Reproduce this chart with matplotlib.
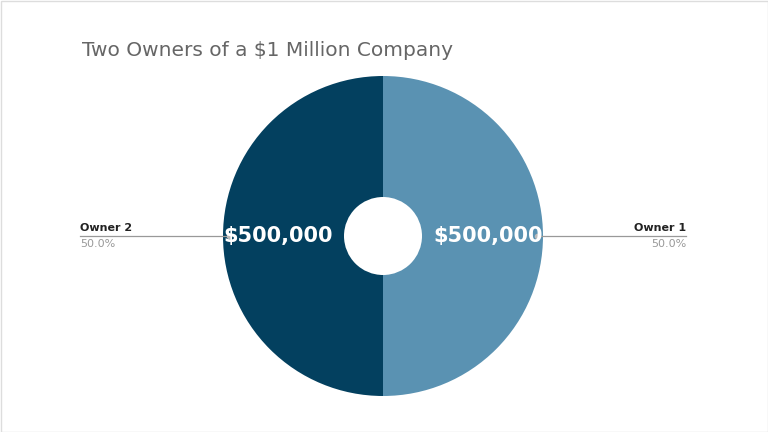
import matplotlib
matplotlib.use("Agg")
import matplotlib.pyplot as plt

labels = ["Owner 1", "Owner 2"]
values = [500000, 500000]
colors = ["#5A92B2", "#03405F"]

fig = plt.figure(figsize=(7.68, 4.32), dpi=100)
ax = fig.add_axes([0, 0, 1, 1])
ax.set_xlim(0, 768); ax.set_ylim(0, 432); ax.set_aspect("equal"); ax.axis("off")

cx, cy, R, r = 383, 196, 160, 39
wedges, _ = ax.pie(values, colors=colors, startangle=90, counterclock=False,
                   center=(cx, cy), radius=R, frame=True,
                   wedgeprops=dict(width=R - r, linewidth=0))
ax.set_xlim(0, 768); ax.set_ylim(0, 432); ax.axis("off")

total = sum(values)
for side, lab, v in [(1, labels[0], values[0]), (-1, labels[1], values[1])]:
    ax.text(cx + side * 105, cy, f"${v:,.0f}", color="white", fontsize=15,
            fontweight="bold", ha="center", va="center")
    x0 = cx + side * 154
    x1 = cx + side * 303
    ax.plot([x0, x1], [cy, cy], color="#999999", lw=0.9)
    ax.plot([x0], [cy], "o", color="#bbbbbb", ms=3)
    ha = "right" if side > 0 else "left"
    ax.text(x1, cy + 3, lab, fontsize=8, fontweight="bold", color="#222222", ha=ha, va="bottom")
    ax.text(x1, cy - 3, f"{v/total*100:.1f}%", fontsize=8, color="#999999", ha=ha, va="top")

ax.text(82, 382, "Two Owners of a $1 Million Company", fontsize=14.5, color="#666666",
        ha="left", va="center")
ax.add_patch(plt.Rectangle((0.5, 0.5), 767, 431, fill=False, ec="#dddddd", lw=1))
fig.savefig("out.png", dpi=100)
